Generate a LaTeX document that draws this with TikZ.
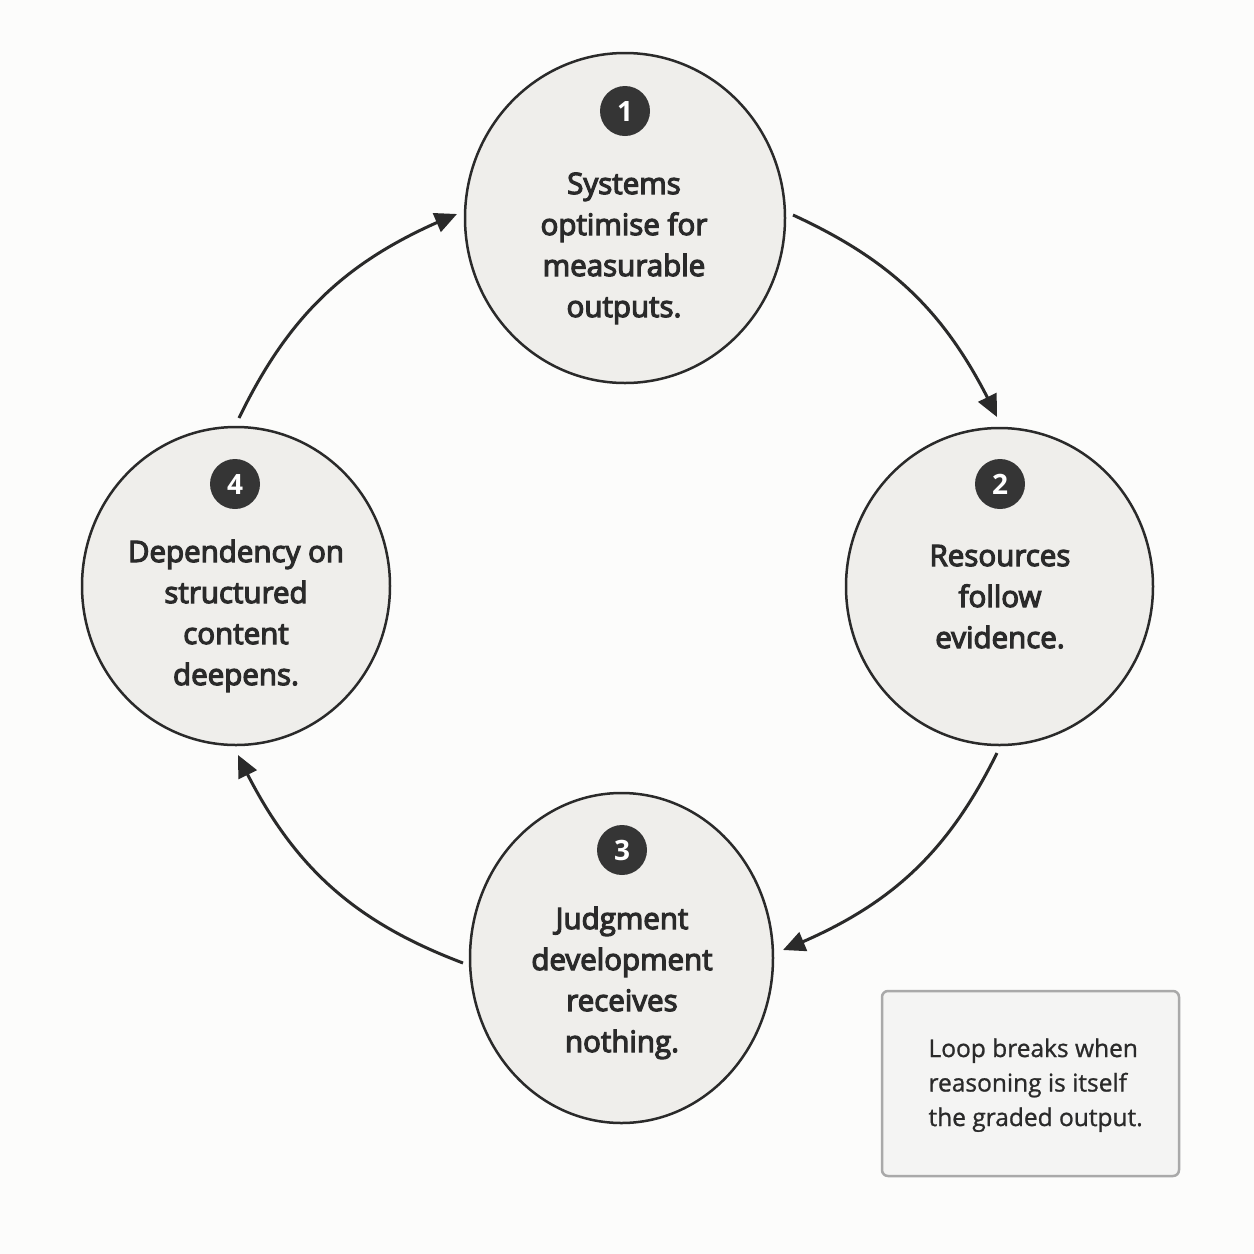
\documentclass[tikz,border=0pt]{standalone}
\usepackage{fontspec}
\setmainfont{Open Sans}
\newfontfamily\circfont[FakeBold=4]{Open Sans}
\newfontfamily\boxfont[FakeBold=1]{Open Sans}
\usetikzlibrary{arrows.meta,shapes.geometric,bending}
\definecolor{ink}{HTML}{2A2A2A}
\definecolor{cfill}{HTML}{EFEEEB}
\definecolor{bgc}{HTML}{FCFCFB}
\definecolor{bfill}{HTML}{F4F4F3}
\definecolor{bline}{HTML}{A9A9A9}
\tikzset{
  stage/.style={ellipse, draw=ink, line width=2.5pt, fill=cfill, inner sep=0pt},
  badge/.style={circle, fill=ink!95, minimum size=50pt, inner sep=0pt, text=white,
    font=\fontsize{28}{28}\selectfont\bfseries},
  stagetext/.style={align=center, text=ink, anchor=base,
    font=\circfont\fontsize{29.5}{41}\selectfont},
  flow/.style={draw=ink, line width=3pt, -{Triangle[length=22pt,width=20pt]}},
  notebox/.style={draw=bline, line width=2.5pt, fill=bfill, rounded corners=6pt,
    minimum width=297pt, minimum height=185pt, inner sep=0pt},
  notetext/.style={align=left, text=ink, anchor=base west,
    font=\boxfont\fontsize{24.5}{34.5}\selectfont}
}
\begin{document}
\begin{tikzpicture}[x=1pt,y=-1pt]
\fill[bgc] (0,0) rectangle (1254,1254);
\useasboundingbox (0,0) rectangle (1254,1254);

% stages
\node[stage, minimum width=320pt, minimum height=330pt] (s1) at (625,218) {};
\node[stage, minimum width=307pt, minimum height=317pt] (s2) at (999.5,586.5) {};
\node[stage, minimum width=303pt, minimum height=330pt] (s3) at (621.5,958) {};
\node[stage, minimum width=308pt, minimum height=318pt] (s4) at (236,586) {};

% badges
\node[badge] (b1) at (625,111) {1};
\node[badge] (b2) at (1000,484) {2};
\node[badge] (b3) at (622,850) {3};
\node[badge] (b4) at (235,484) {4};

% texts (anchor base = last line baseline)
\node[stagetext] (t1) at (624,317) {Systems\\optimise for\\measurable\\outputs.};
\node[stagetext] (t2) at (1000,648) {Resources\\follow\\evidence.};
\node[stagetext] (t3) at (622,1052) {Judgment\\development\\receives\\nothing.};
\node[stagetext] (t4) at (236,685) {Dependency on\\structured\\content\\deepens.};

% note box
\node[notebox] (nb) at (1030.5,1083.5) {};
\node[notetext] (nt) at (925,1126) {Loop breaks when\\reasoning is itself\\the graded output.};

% connectors
\coordinate (a1s) at (793,215);  \coordinate (a1e) at (997,417);
\coordinate (a2s) at (997,753);  \coordinate (a2e) at (783,950);
\coordinate (a3s) at (463,963);  \coordinate (a3e) at (238,755);
\coordinate (a4s) at (239,418);  \coordinate (a4e) at (457,214);
\draw[flow] (a1s) to[bend left=20] (a1e);
\draw[flow] (a2s) to[bend left=21] (a2e);
\draw[flow] (a3s) to[bend left=22] (a3e);
\draw[flow] (a4s) to[bend left=21] (a4e);
\end{tikzpicture}
\end{document}
